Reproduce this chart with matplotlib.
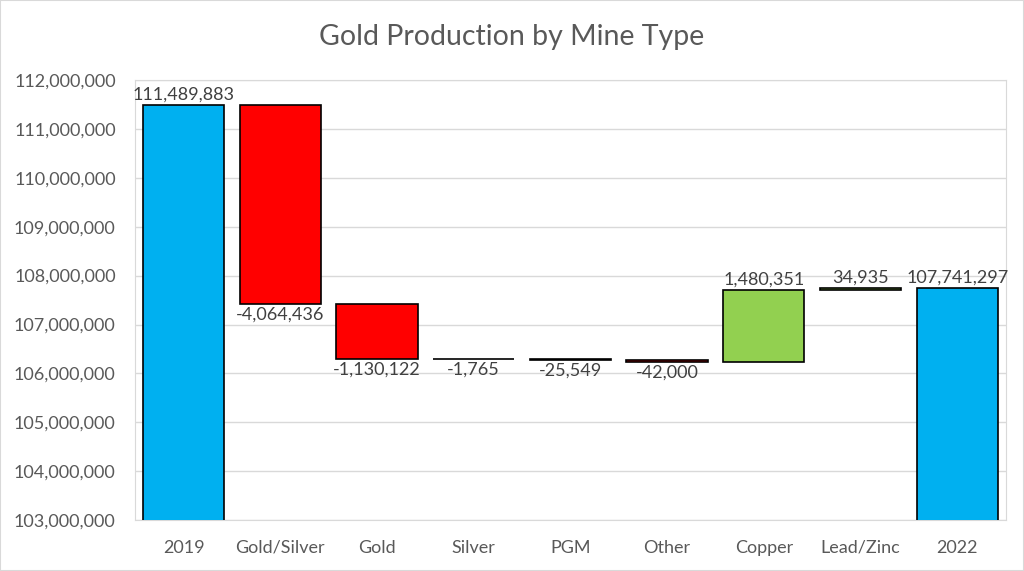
import numpy as np
import matplotlib.pyplot as plt
from matplotlib.ticker import FuncFormatter

plt.rcParams['font.family'] = ['Lato', 'DejaVu Sans']

categories = ['2019', 'Gold/Silver', 'Gold', 'Silver', 'PGM', 'Other', 'Copper', 'Lead/Zinc', '2022']
start_value = 111489883
changes = [-4064436, -1130122, -1765, -25549, -42000, 1480351, 34935]
end_value = 107741297

# waterfall geometry
bottoms = [0]
heights = [start_value]
running = start_value
for c in changes:
    if c < 0:
        bottoms.append(running + c)
    else:
        bottoms.append(running)
    heights.append(abs(c))
    running += c
bottoms.append(0)
heights.append(end_value)

colors = ['#00B0F0'] + ['#FF0000' if c < 0 else '#92D050' for c in changes] + ['#00B0F0']
labels = [f'{start_value:,}'] + [f'{c:,}' for c in changes] + [f'{end_value:,}']

fig = plt.figure(figsize=(10.24, 5.71), dpi=100)
ax = fig.add_axes([0.132, 0.089, 0.85, 0.771])

x = np.arange(len(categories))
ax.bar(x, heights, bottom=bottoms, width=0.84, color=colors, edgecolor='black', linewidth=1.2, zorder=3)

for i in range(len(categories)):
    top = bottoms[i] + heights[i]
    if i in (0, len(categories) - 1) or changes[i - 1] > 0:
        ax.text(x[i], top + 45000, labels[i], ha='center', va='bottom', fontsize=13, color='#404040')
    else:
        ax.text(x[i], bottoms[i] - 55000, labels[i], ha='center', va='top', fontsize=13, color='#404040')

ax.set_ylim(103000000, 112000000)
ax.set_xlim(-0.5, len(categories) - 0.5)
ax.set_yticks(np.arange(103000000, 112000001, 1000000))
ax.yaxis.set_major_formatter(FuncFormatter(lambda v, p: f'{int(v):,}'))
ax.set_xticks(x)
ax.set_xticklabels(categories)
ax.tick_params(axis='both', length=0, labelsize=13, labelcolor='#595959')
ax.tick_params(axis='x', pad=14)
ax.tick_params(axis='y', pad=14)
ax.grid(axis='y', color='#D9D9D9', linewidth=1, zorder=0)
for s in ax.spines.values():
    s.set_color('#D9D9D9')

fig.text(0.5, 0.935, 'Gold Production by Mine Type', ha='center', va='center', fontsize=20.5, color='#595959')
fig.patches.append(plt.Rectangle((0, 0), 1, 1, transform=fig.transFigure, fill=False, edgecolor='#D9D9D9', linewidth=1.5))

fig.savefig('out.png', dpi=100)
